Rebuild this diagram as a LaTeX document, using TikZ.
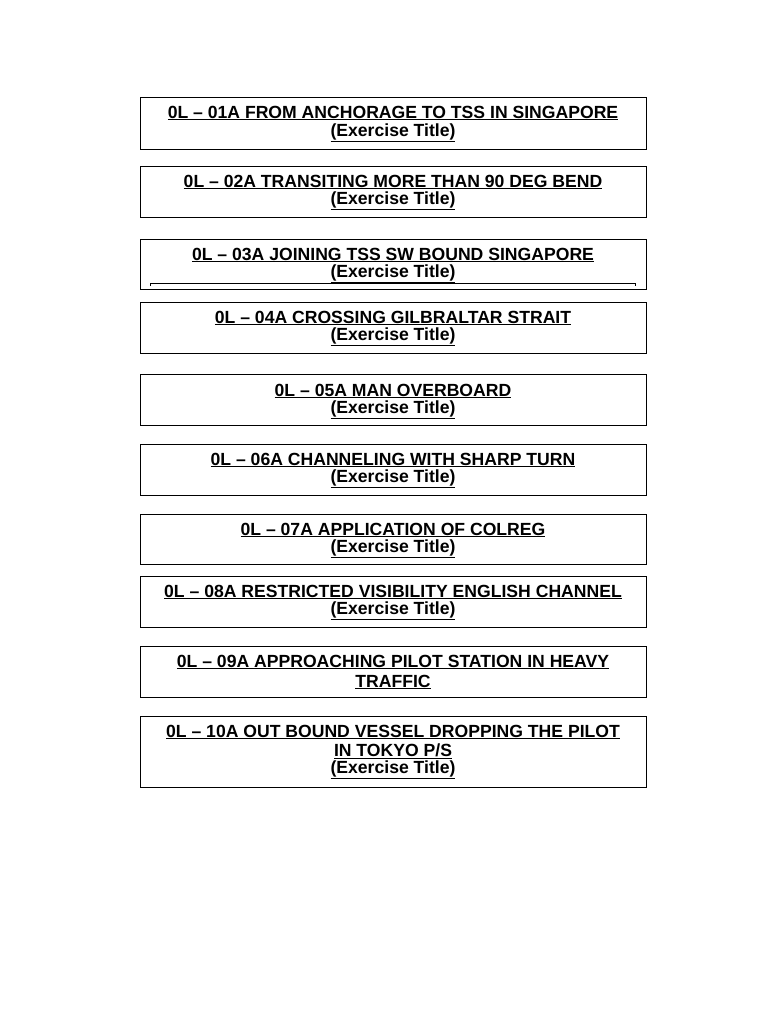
\documentclass[tikz,border=0pt]{standalone}
\usepackage{fontspec}
\setmainfont{Liberation Sans}
\begin{document}
\begin{tikzpicture}[x=1pt,y=-1pt,
  ex/.style={draw,line width=0.8pt},
  tl/.style={font=\fontsize{17.6}{20}\selectfont\bfseries,inner sep=0pt,anchor=center}]
\useasboundingbox (0,0) rectangle (768,1024);
\newcommand{\ebox}[4]{\draw[ex] (140,#1) rectangle (646,#2);}
\ebox{97}{149}{}{}
\node[tl] (a1) at (393,113) {\underline{0L – 01A FROM ANCHORAGE TO TSS IN SINGAPORE}};
\node[tl] (b1) at (393,133) {\underline{(Exercise Title)}};
\ebox{166}{217}{}{}
\node[tl] (a2) at (393,182) {\underline{0L – 02A TRANSITING MORE THAN 90 DEG BEND}};
\node[tl] (b2) at (393,201) {\underline{(Exercise Title)}};
\ebox{239}{289}{}{}
\draw[line width=0.6pt] (150,286) -- (150,283) -- (635,283) -- (635,286);
\node[tl] (a3) at (393,255) {\underline{0L – 03A JOINING TSS SW BOUND SINGAPORE}};
\node[tl] (b3) at (393,274) {\underline{(Exercise Title)}};
\ebox{302}{353}{}{}
\node[tl] (a4) at (393,318) {\underline{0L – 04A CROSSING GILBRALTAR STRAIT}};
\node[tl] (b4) at (393,337) {\underline{(Exercise Title)}};
\ebox{374}{425}{}{}
\node[tl] (a5) at (393,391) {\underline{0L – 05A MAN OVERBOARD}};
\node[tl] (b5) at (393,410) {\underline{(Exercise Title)}};
\ebox{444}{495}{}{}
\node[tl] (a6) at (393,460) {\underline{0L – 06A CHANNELING WITH SHARP TURN}};
\node[tl] (b6) at (393,479) {\underline{(Exercise Title)}};
\ebox{514}{564}{}{}
\node[tl] (a7) at (393,530) {\underline{0L – 07A APPLICATION OF COLREG}};
\node[tl] (b7) at (393,549) {\underline{(Exercise Title)}};
\ebox{576}{627}{}{}
\node[tl] (a8) at (393,592) {\underline{0L – 08A RESTRICTED VISIBILITY ENGLISH CHANNEL}};
\node[tl] (b8) at (393,611) {\underline{(Exercise Title)}};
\ebox{646}{697}{}{}
\node[tl] (a9) at (393,662) {\underline{0L – 09A APPROACHING PILOT STATION IN HEAVY}};
\node[tl] (b9) at (393,682) {\underline{TRAFFIC}};
\ebox{716}{787}{}{}
\node[tl] (a10) at (393,732) {\underline{0L – 10A OUT BOUND VESSEL DROPPING THE PILOT}};
\node[tl] (b10) at (393,751) {\underline{IN TOKYO P/S}};
\node[tl] (c10) at (393,770) {\underline{(Exercise Title)}};
\end{tikzpicture}
\end{document}
